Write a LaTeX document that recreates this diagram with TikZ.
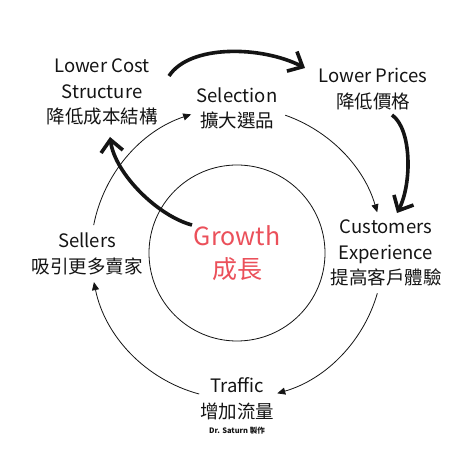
\documentclass[tikz,border=0pt]{standalone}
\usepackage{fontspec}
\setmainfont{Noto Sans CJK TC}
\usetikzlibrary{arrows.meta}
\definecolor{growthred}{RGB}{235,80,90}
\definecolor{ink}{RGB}{20,20,20}
\begin{document}
\begin{tikzpicture}[x=1pt,y=1pt,
  lbl/.style={align=center,text=ink,inner sep=0pt,font=\fontsize{18.5}{25.5}\selectfont},
  thinarc/.style={draw=ink,line width=0.8pt,-{Triangle[length=8pt,width=7pt]}},
  bigarrow/.style={draw=ink,line width=3.6pt,-{Straight Barb[length=12pt,width=22pt]}}]
\useasboundingbox (0,0) rectangle (474,474);
\fill[white] (0,0) rectangle (474,474);
\coordinate (c) at (237,221);
% inner circle
\draw[ink,line width=0.8pt] (c) circle[radius=88];
% labels
\node[lbl] (lc) at (102,382) {Lower Cost\\Structure\\降低成本結構};
\node[lbl] (sel) at (237,365.5) {Selection\\擴大選品};
\node[lbl] (lp) at (373,385) {Lower Prices\\降低價格};
\node[lbl] (ce) at (386,221) {Customers\\Experience\\提高客戶體驗};
\node[lbl] (sl) at (87,220) {Sellers\\吸引更多賣家};
\node[lbl] (tr) at (237,75) {Traffic\\增加流量};
\node[align=center,text=growthred,inner sep=0pt,font=\fontsize{25}{33}\selectfont] (gr) at (237,220.5) {Growth\\成長};
\node[text=ink,inner sep=0pt,font=\fontsize{7.5}{9}\selectfont\bfseries] (dr) at (237,43) {Dr. Saturn 製作};
% outer arcs
\draw[thinarc] (c) ++(169:146) arc[start angle=169,end angle=108.3,radius=146];
\draw[thinarc] (c) ++(70.7:146) arc[start angle=70.7,end angle=16.2,radius=146];
\draw[thinarc] (c) ++(-16:146) arc[start angle=-16,end angle=-74,radius=146];
\draw[thinarc] (c) ++(-105:146) arc[start angle=-105,end angle=-168.5,radius=146];
% thick arrows
\coordinate (a1s) at (169,398);
\coordinate (a1e) at (305,406);
\coordinate (a2s) at (392,359);
\coordinate (a2e) at (397,261);
\coordinate (a3s) at (192,249);
\coordinate (a3e) at (110,337);
\draw[bigarrow] (a1s) .. controls (190,430) and (262,428) .. (a1e);
\draw[bigarrow] (a2s) .. controls (412,345) and (412,290) .. (a2e);
\draw[bigarrow] (a3s) .. controls (158,258) and (115,300) .. (a3e);
\end{tikzpicture}
\end{document}
